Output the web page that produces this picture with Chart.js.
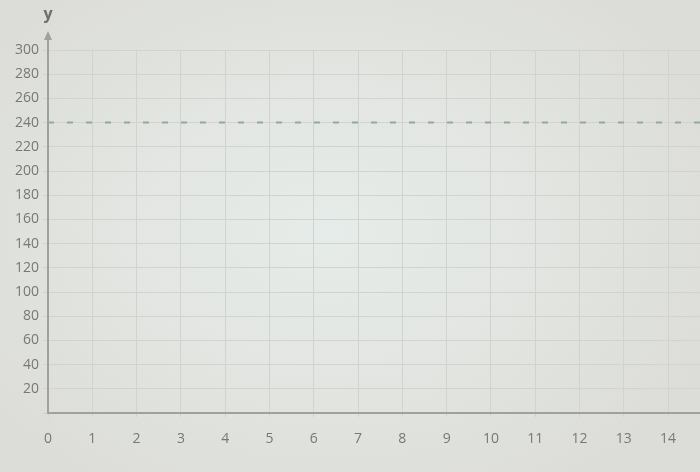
<!DOCTYPE html>
<html><head><meta charset="utf-8">
<script src="https://cdn.jsdelivr.net/npm/chart.js@4"></script>
<style>
html,body{margin:0;padding:0;width:700px;height:472px;overflow:hidden;}
body{background:radial-gradient(ellipse 420px 300px at 330px 230px,#e6ece9 0%,#e3e6e2 45%,#dcddd8 100%);}
#wrap{position:absolute;left:0;top:0;width:700px;height:472px;}
</style></head>
<body><div id="wrap"><canvas id="c" width="700" height="472"></canvas></div>
<script>
const xTicks = [0,1,2,3,4,5,6,7,8,9,10,11,12,13,14];
const yTicks = [0,20,40,60,80,100,120,140,160,180,200,220,240,260,280,300];
const lineX = [0, 15];
const lineY = [240, 240];
const axisTitleY = 'y';

const textColor = '#787876';
const font = {family:'"Open Sans", sans-serif', size:14};

const arrowPlugin = {
  id:'arrow',
  afterDraw(chart){
    const ctx = chart.ctx, x = chart.scales.x;
    const px = x.getPixelForValue(0);
    const top = chart.chartArea.top;
    ctx.save();
    ctx.strokeStyle = '#a0a09e';
    ctx.fillStyle = '#a0a09e';
    ctx.lineWidth = 2;
    ctx.beginPath();
    ctx.moveTo(px, top);
    ctx.lineTo(px, top - 12);
    ctx.stroke();
    ctx.beginPath();
    ctx.moveTo(px, top - 19);
    ctx.lineTo(px - 4, top - 10);
    ctx.lineTo(px + 4, top - 10);
    ctx.closePath();
    ctx.fill();
    ctx.fillStyle = '#6e6e6c';
    ctx.font = 'bold 16px "Open Sans", sans-serif';
    ctx.textAlign = 'center';
    ctx.textBaseline = 'middle';
    ctx.fillText(axisTitleY, px, 14);
    ctx.restore();
  }
};

new Chart(document.getElementById('c'), {
  type:'line',
  data:{
    datasets:[{
      data: lineX.map((v,i)=>({x:v, y:lineY[i]})),
      borderColor:'#8fa9a6',
      borderWidth:2,
      borderDash:[6,13],
      pointRadius:0,
      fill:false
    }]
  },
  options:{
    responsive:false,
    animation:false,
    layout:{padding:{top:50, left:0, right:0, bottom:0}},
    plugins:{legend:{display:false}, tooltip:{enabled:false}},
    scales:{
      x:{
        type:'linear', min:0, max:14.72,
        afterBuildTicks(s){ s.ticks = xTicks.map(v=>({value:v})); },
        afterFit(s){ s.height = 59; },
        grid:{color:'#d2d3cf', lineWidth:1, tickLength:4, drawTicks:true},
        border:{color:'#a0a09e', width:2},
        ticks:{color:textColor, font:font, padding:14, maxRotation:0, autoSkip:false}
      },
      y:{
        type:'linear', min:0, max:300,
        afterBuildTicks(s){ s.ticks = yTicks.map(v=>({value:v})); },
        afterFit(s){ s.width = 48; },
        grid:{color:'#d2d3cf', lineWidth:1, tickLength:5},
        border:{color:'#a0a09e', width:2},
        ticks:{color:textColor, font:font, padding:4, autoSkip:false,
          callback:(v)=> v===0 ? '' : String(v)}
      }
    }
  },
  plugins:[arrowPlugin]
});
</script></body></html>
